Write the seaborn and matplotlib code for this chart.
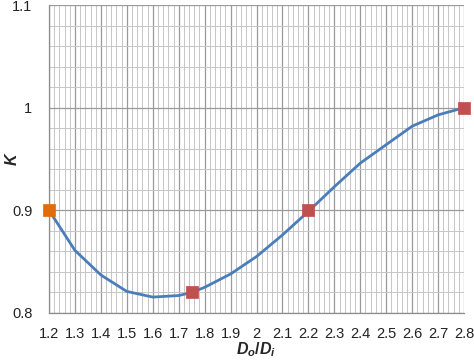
import matplotlib
matplotlib.use("Agg")
import matplotlib.pyplot as plt
import seaborn as sns
import pandas as pd
from matplotlib.ticker import MultipleLocator

# Data
ratio = [1.2, 1.3, 1.4, 1.5, 1.6, 1.7, 1.75, 1.8, 1.9, 2.0, 2.1, 2.2, 2.3, 2.4, 2.5, 2.6, 2.7, 2.8]
k_val = [0.900, 0.861, 0.837, 0.821, 0.8155, 0.817, 0.820, 0.825, 0.838, 0.855, 0.876, 0.899, 0.923, 0.946, 0.964, 0.982, 0.993, 1.000]
mark_orange_x = [1.2]
mark_orange_y = [0.9]
mark_red_x = [1.75, 2.2, 2.8]
mark_red_y = [0.82, 0.9, 1.0]
x_ticks = [1.2, 1.3, 1.4, 1.5, 1.6, 1.7, 1.8, 1.9, 2.0, 2.1, 2.2, 2.3, 2.4, 2.5, 2.6, 2.7, 2.8]
x_tick_labels = ["1.2", "1.3", "1.4", "1.5", "1.6", "1.7", "1.8", "1.9", "2", "2.1", "2.2", "2.3", "2.4", "2.5", "2.6", "2.7", "2.8"]
y_ticks = [0.8, 0.9, 1.0, 1.1]
y_tick_labels = ["0.8", "0.9", "1", "1.1"]

sns.set_style("white")
plt.rcParams['font.family'] = ['Liberation Sans', 'DejaVu Sans']
plt.rcParams['mathtext.fontset'] = 'custom'
plt.rcParams['mathtext.it'] = 'Liberation Sans:italic:bold'
plt.rcParams['mathtext.rm'] = 'Liberation Sans:bold'

fig = plt.figure(figsize=(4.74, 3.62), dpi=100)
ax = fig.add_axes([0.1034, 0.1354, 0.8756, 0.8506])

df = pd.DataFrame({"ratio": ratio, "K": k_val})
sns.lineplot(data=df, x="ratio", y="K", ax=ax, color="#4A7EBB", linewidth=2.0, zorder=3)

dfo = pd.DataFrame({"x": mark_orange_x, "y": mark_orange_y})
dfr = pd.DataFrame({"x": mark_red_x, "y": mark_red_y})
sns.scatterplot(data=dfo, x="x", y="y", ax=ax, marker="s", s=85, color="#E36C0A",
                edgecolor="#E36C0A", linewidth=0.5, zorder=5, clip_on=False)
sns.scatterplot(data=dfr, x="x", y="y", ax=ax, marker="s", s=85, color="#C0504D",
                edgecolor="#C0504D", linewidth=0.5, zorder=5, clip_on=False)

ax.set_xlim(1.2, 2.8)
ax.set_ylim(0.8, 1.1)
ax.set_xticks(x_ticks)
ax.set_xticklabels(x_tick_labels)
ax.set_yticks(y_ticks)
ax.set_yticklabels(y_tick_labels)
ax.xaxis.set_minor_locator(MultipleLocator(0.02))
ax.yaxis.set_minor_locator(MultipleLocator(0.02))

ax.grid(which="major", color="#9a9a9a", linewidth=0.9)
ax.grid(which="minor", color="#c6c6c6", linewidth=0.7)
ax.set_axisbelow(True)

for side in ["top", "right"]:
    ax.spines[side].set_visible(False)
for side in ["left", "bottom"]:
    ax.spines[side].set_color("#8c8c8c")
    ax.spines[side].set_linewidth(0.9)

ax.tick_params(axis="both", which="major", direction="out", length=4, width=0.9,
               color="#8c8c8c", labelsize=10.5, labelcolor="#222222", pad=4)
ax.tick_params(axis="both", which="minor", length=0)
ax.tick_params(axis="x", pad=6)
ax.tick_params(axis="y", pad=8)

ax.set_xlabel(r"$D_o/D_i$", fontsize=11.5)
ax.set_ylabel(r"$K$", fontsize=11.5)
# position labels (axes coords)
ax.xaxis.set_label_coords(0.5, -0.09)
ax.yaxis.set_label_coords(-0.07, 0.5)

fig.savefig("out.png", dpi=100)
